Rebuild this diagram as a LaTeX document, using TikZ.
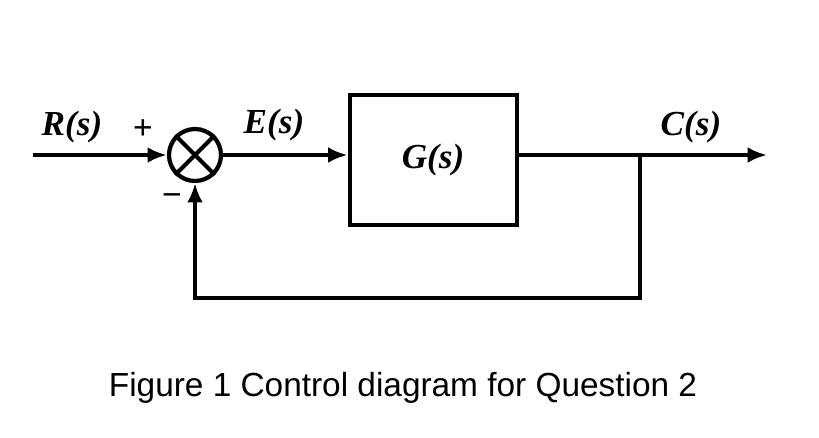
\documentclass[tikz,border=0pt]{standalone}
\usepackage{fontspec}
\setmainfont{Liberation Serif}
\newfontfamily\capfont{Liberation Sans}
\usetikzlibrary{arrows.meta}
\begin{document}
\begin{tikzpicture}[x=0.02cm,y=-0.02cm,
  ln/.style={line width=2.4pt},
  arr/.style={ln,-{Latex[length=11pt,width=9pt]}},
  lbl/.style={font=\fontsize{20}{24}\selectfont\bfseries\itshape},
  sgn/.style={font=\fontsize{20}{24}\selectfont\bfseries}]
\useasboundingbox (0,0) rectangle (819,437);
\coordinate (in) at (33,155);
\node[circle,draw,line width=2.4pt,minimum size=52*0.02cm,inner sep=0] (sum) at (195,155) {};
\draw[ln] (sum.north west) -- (sum.south east) (sum.north east) -- (sum.south west);
\node[draw,line width=2.8pt,minimum width=167*0.02cm,minimum height=130*0.02cm,inner sep=0] (G) at (433.5,160) {};
\node[lbl] (gl) at (433,160) {G(s)};
\coordinate (br) at (640,155);
\coordinate (out) at (767,155);
\coordinate (c1) at (640,298);
\coordinate (c2) at (195,298);
\draw[arr] (in) -- (sum.west);
\draw[arr] (sum.east) -- (G.west |- sum.east);
\draw[arr] (G.east |- br) -- (out);
\draw[arr] (br) -- (c1) -- (c2) -- (sum.south);
\node[lbl] (rl) at (72,127) {R(s)};
\node[sgn] (pl) at (143,130) {+};
\node[lbl] (el) at (274,125) {E(s)};
\node[lbl] (cl) at (691,127) {C(s)};
\node[sgn] (ml) at (172,200) {−};
\node[font=\capfont\fontsize{19}{23}\selectfont] (cap) at (403,388) {Figure 1 Control diagram for Question 2};
\end{tikzpicture}
\end{document}
